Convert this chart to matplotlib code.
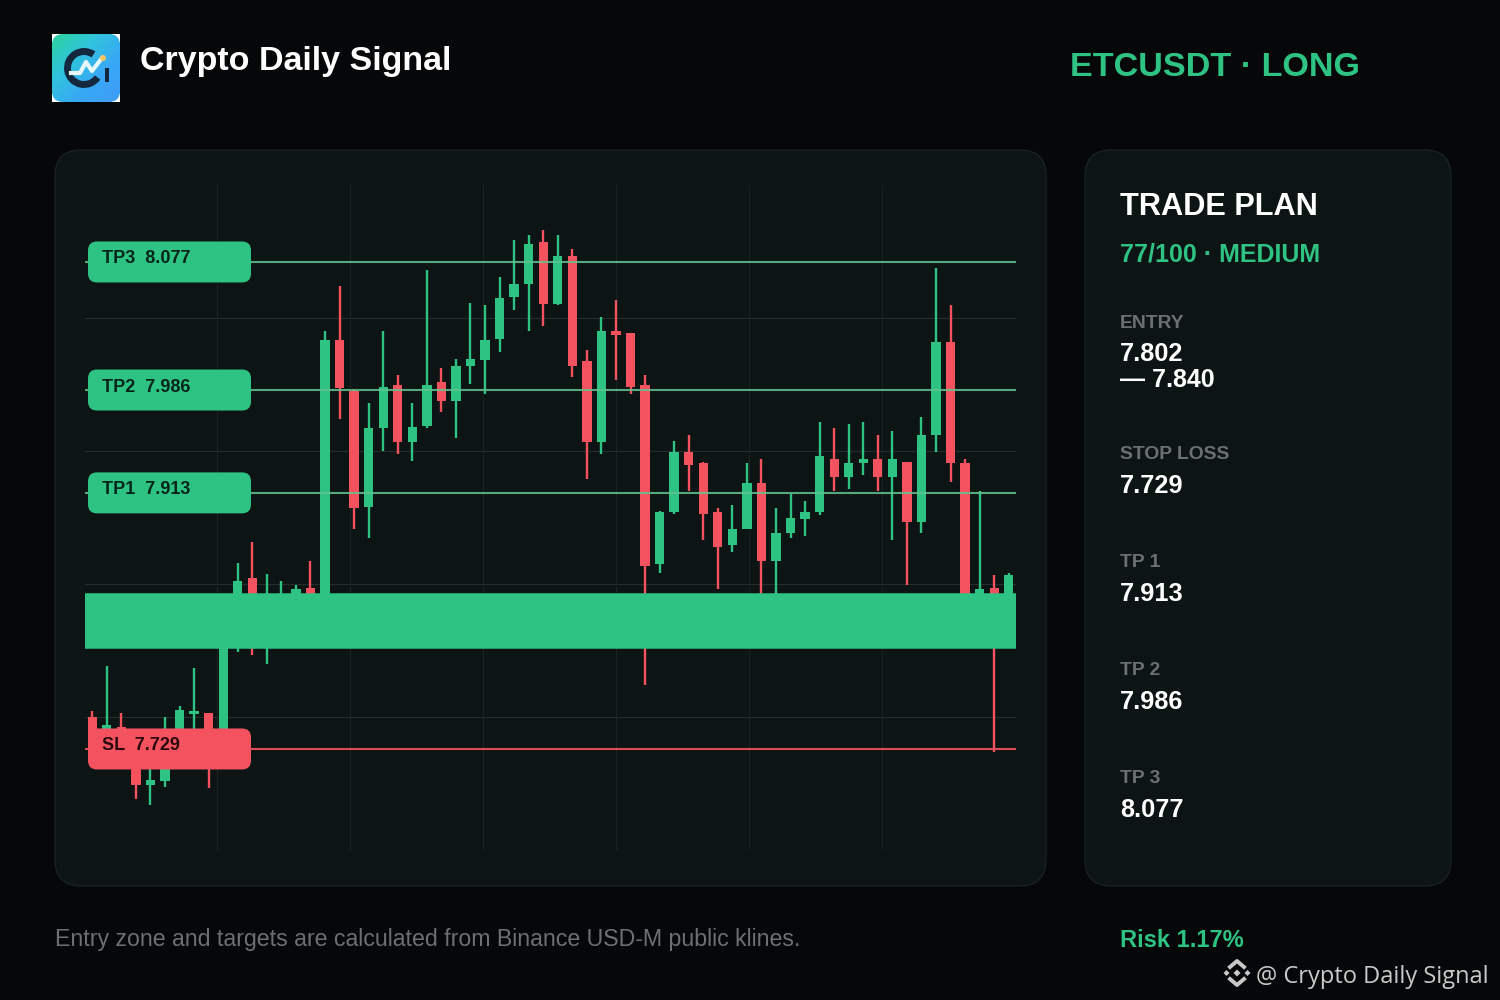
import numpy as np
import matplotlib.pyplot as plt
from matplotlib.patches import FancyBboxPatch, Arc, Polygon, Rectangle, Circle
from matplotlib.colors import LinearSegmentedColormap

plt.rcParams['font.family'] = ['Liberation Sans', 'DejaVu Sans']

# kline values (parts under the band and the labels are guesses)
opens = [7.752, 7.740, 7.745, 7.735, 7.703, 7.706, 7.739, 7.754, 7.755, 7.739, 7.821, 7.851, 7.818, 7.821, 7.828, 7.844,
         7.825, 8.021, 7.985, 7.902, 7.958, 7.989, 7.948, 7.960, 7.991, 7.978, 8.003, 8.007, 8.022, 8.052, 8.061, 8.091,
         8.047, 8.081, 8.006, 7.948, 8.028, 8.026, 7.989, 7.861, 7.898, 7.941, 7.933, 7.898, 7.875, 7.886, 7.919, 7.863,
         7.883, 7.893, 7.898, 7.936, 7.923, 7.933, 7.936, 7.923, 7.934, 7.891, 7.953, 8.020, 7.933, 7.828, 7.844, 7.828]
closes = [7.732, 7.746, 7.739, 7.703, 7.707, 7.732, 7.757, 7.756, 7.732, 7.821, 7.849, 7.818, 7.832, 7.836, 7.843, 7.836,
          8.021, 7.987, 7.901, 7.958, 7.988, 7.948, 7.959, 7.989, 7.978, 8.003, 8.008, 8.021, 8.051, 8.061, 8.090, 8.047,
          8.081, 8.003, 7.948, 8.028, 8.025, 7.988, 7.860, 7.898, 7.941, 7.932, 7.897, 7.873, 7.886, 7.919, 7.863, 7.883,
          7.894, 7.898, 7.938, 7.923, 7.933, 7.936, 7.923, 7.936, 7.891, 7.953, 8.020, 7.933, 7.825, 7.843, 7.818, 7.853]
highs = [7.756, 7.788, 7.755, 7.739, 7.732, 7.752, 7.760, 7.787, 7.755, 7.821, 7.862, 7.877, 7.854, 7.849, 7.846, 7.863,
         8.028, 8.060, 7.986, 7.976, 8.028, 7.996, 7.976, 8.071, 8.001, 8.008, 8.048, 8.046, 8.066, 8.093, 8.096, 8.100,
         8.096, 8.086, 8.014, 8.038, 8.050, 8.026, 7.996, 7.899, 7.949, 7.953, 7.934, 7.901, 7.903, 7.933, 7.936, 7.901,
         7.911, 7.906, 7.963, 7.958, 7.961, 7.963, 7.953, 7.956, 7.934, 7.966, 8.073, 8.046, 7.936, 7.913, 7.853, 7.855]
lows = [7.727, 7.732, 7.728, 7.693, 7.689, 7.702, 7.735, 7.739, 7.701, 7.739, 7.798, 7.796, 7.790, 7.810, 7.821, 7.825,
        7.818, 7.965, 7.886, 7.880, 7.942, 7.940, 7.935, 7.958, 7.970, 7.951, 7.990, 7.983, 8.013, 8.043, 8.028, 8.031,
        8.046, 7.995, 7.922, 7.940, 7.993, 7.983, 7.775, 7.855, 7.897, 7.913, 7.878, 7.843, 7.870, 7.886, 7.828, 7.828,
        7.880, 7.881, 7.896, 7.913, 7.915, 7.925, 7.913, 7.878, 7.846, 7.883, 7.941, 7.920, 7.807, 7.814, 7.727, 7.821]

tp_names = ['TP1', 'TP2', 'TP3']
tp_levels = [7.913, 7.986, 8.077]
# unrounded level positions as they sit in the picture
tp_lines = [7.912, 7.9855, 8.077]
stop_loss = 7.729
entry_low = 7.802
entry_high = 7.840
risk_pct = 1.17
score = 77

# y range of the plot, and the grid
price_top = 8.132
price_bottom = 7.6568
h_grid = [8.037, 7.942, 7.847, 7.752]
v_grid = [8.58, 17.72, 26.86, 36.0, 45.14, 54.28]

BG = '#050709'
CARD = '#0d1414'
EDGE = '#1e2727'
GREEN = '#2ec283'
RED = '#f4525f'
GRAY = '#6b7071'

fig = plt.figure(figsize=(15, 10), dpi=100, facecolor=BG)

# pixel coordinate layer for cards and text
bg = fig.add_axes([0, 0, 1, 1], zorder=0)
bg.set_xlim(0, 1500)
bg.set_ylim(1000, 0)
bg.axis('off')


def card(a, x0, y0, x1, y1, r, fc, ec='none', z=1, lw=0.75):
    p = FancyBboxPatch((x0 + r, y0 + r), x1 - x0 - 2 * r, y1 - y0 - 2 * r,
                       boxstyle='round,pad=%f,rounding_size=%f' % (r, r),
                       fc=fc, ec=ec, lw=lw, zorder=z)
    a.add_patch(p)
    return p


def px(size):
    return size * 0.72


card(bg, 55, 150, 1046, 886, 26, CARD, EDGE)
card(bg, 1085, 150, 1451, 886, 26, CARD, EDGE)

# logo
bg.add_patch(Rectangle((52, 34), 68, 68, fc='white', ec='none', zorder=2))
clip = card(bg, 52, 34, 120, 102, 12, '#2fb4e8', z=3)
grad = np.add.outer(np.linspace(0, 1, 60), np.linspace(0, 1, 60)) / 2
cmap = LinearSegmentedColormap.from_list('logo', ['#2bd39a', '#30c4dc', '#38a8f6', '#3f9cf8'])
im = bg.imshow(grad, extent=(52, 120, 102, 34), cmap=cmap, aspect='auto', zorder=4)
im.set_clip_path(clip)
bg.set_xlim(0, 1500)
bg.set_ylim(1000, 0)
bg.add_patch(Arc((84, 68), 33, 33, theta1=35, theta2=305, color='#13283f', lw=5, zorder=5))
bg.add_patch(Rectangle((105, 68), 4, 14, fc='#13283f', ec='none', zorder=5))
bg.plot([71, 80, 86, 92, 102], [73, 73, 62, 71, 58], color='#e6f6fb', lw=3, zorder=6)
bg.add_patch(Circle((103, 58), 3, fc='#f5c463', ec='none', zorder=7))

bg.text(140, 70, 'Crypto Daily Signal', color='white', fontsize=px(34), fontweight='bold', zorder=8)
bg.text(1070, 76, 'ETCUSDT · LONG', color=GREEN, fontsize=px(34.2), fontweight='bold', zorder=8)

# right panel
bg.text(1120, 215, 'TRADE PLAN', color='white', fontsize=px(30.8), fontweight='bold', zorder=8)
bg.text(1120, 261, '%d/100 · MEDIUM' % score, color=GREEN, fontsize=px(25), fontweight='bold', zorder=8)

plan_rows = [('ENTRY', 328, '%.3f' % entry_low, 361),
             ('STOP LOSS', 459, '%.3f' % stop_loss, 493),
             ('TP 1', 567, '%.3f' % tp_levels[0], 601),
             ('TP 2', 675, '%.3f' % tp_levels[1], 709),
             ('TP 3', 783, '%.3f' % tp_levels[2], 817)]
for name, y_name, val, y_val in plan_rows:
    bg.text(1120, y_name, name, color=GRAY, fontsize=px(19.3), fontweight='bold', zorder=8)
    bg.text(1120, y_val, val, color='white', fontsize=px(25.4), fontweight='bold', zorder=8)
bg.text(1120, 387, '— %.3f' % entry_high, color='white', fontsize=px(25), fontweight='bold', zorder=8)

# footer
bg.text(55, 946, 'Entry zone and targets are calculated from Binance USD-M public klines.',
        color=GRAY, fontsize=px(23.1), zorder=8)
bg.text(1120, 947, 'Risk %.2f%%' % risk_pct, color=GREEN, fontsize=px(23.7), fontweight='bold', zorder=8)
bg.text(1256, 983, '@ Crypto Daily Signal', color='#c9c9c9', fontsize=px(23.6), family='Open Sans', zorder=8)

# watermark icon
ix, iy = 1237, 973
wm = '#c9c9c9'
for dx, dy, s in [(0, 0, 3.5), (-10.5, 0, 3), (10.5, 0, 3)]:
    bg.add_patch(Polygon([(ix + dx - s, iy + dy), (ix + dx, iy + dy - s), (ix + dx + s, iy + dy), (ix + dx, iy + dy + s)],
                         fc=wm, ec='none', zorder=8))
bg.plot([ix - 7, ix, ix + 7], [iy - 6, iy - 12, iy - 6], color=wm, lw=2.8, zorder=8)
bg.plot([ix - 7, ix, ix + 7], [iy + 6, iy + 12, iy + 6], color=wm, lw=2.8, zorder=8)

# chart, from x 85 to 1016 and y 185 to 850 in pixels
ax = fig.add_axes([85 / 1500, 1 - 850 / 1000, 931 / 1500, 665 / 1000], zorder=2)
ax.patch.set_alpha(0)
ax.set_xlim(-0.5, 63.5)
ax.set_ylim(price_bottom, price_top)
for s in ax.spines.values():
    s.set_visible(False)
ax.set_xticks([])
ax.set_yticks([])

for g in h_grid:
    ax.axhline(g, color='#262d2d', lw=0.8, zorder=1)
for g in v_grid:
    ax.axvline(g, color='#1b2222', lw=0.8, zorder=1)

idx = np.arange(len(opens))
colors = [GREEN if c >= o else RED for o, c in zip(opens, closes)]
bottoms = np.minimum(opens, closes)
heights = np.abs(np.array(closes) - np.array(opens))
ax.vlines(idx, lows, highs, colors=colors, lw=1.7, zorder=2)
ax.bar(idx, heights, bottom=bottoms, width=0.64, color=colors, zorder=3)

for lv in tp_lines:
    ax.axhline(lv, color='#63c48f', lw=1.5, alpha=0.85, zorder=4)
ax.axhline(stop_loss, color=RED, lw=1.5, alpha=0.9, zorder=4)
ax.axhspan(entry_low, entry_high, fc=GREEN, ec=GREEN, lw=1.8, zorder=5)

# level tags sit on their lines, over the candles
top = fig.add_axes([0, 0, 1, 1], zorder=3)
top.set_xlim(0, 1500)
top.set_ylim(1000, 0)
top.axis('off')
tags = [(n, v, p, GREEN, '#07261a') for n, v, p in zip(tp_names, tp_levels, tp_lines)]
tags.append(('SL', stop_loss, stop_loss, RED, '#2a0a0e'))
for name, lv, pos, fc, tc in tags:
    yp = 1000 - ax.transData.transform((0, pos))[1]
    card(top, 88, yp - 20.5, 251, yp + 20.5, 9, fc, z=6)
    top.text(102, yp + 1.5, '%s  %.3f' % (name, lv), color=tc, fontsize=px(18), fontweight='bold', zorder=7)

fig.savefig('out.png', dpi=100, facecolor=BG)
plt.close(fig)
